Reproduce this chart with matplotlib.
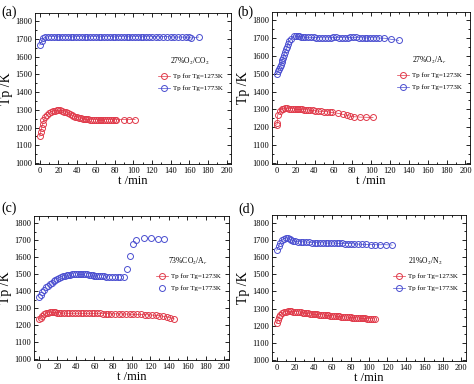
import numpy as np
import matplotlib.pyplot as plt
from matplotlib.ticker import MultipleLocator

plt.rcParams['font.family'] = ['Liberation Serif', 'DejaVu Serif']
plt.rcParams['mathtext.fontset'] = 'stix'

# ---- (a) 27%O2/CO2 ----
a_red_t = [0, 1, 2, 3, 4, 6, 8, 10, 12, 14, 16, 18, 20, 22, 24, 26, 28, 30, 32, 34,
           36, 38, 40, 42, 44, 46, 48, 50, 52, 54, 56, 58, 60, 62, 64, 66, 68, 70,
           72, 74, 76, 78, 80, 82, 90, 96, 102]
a_red_y = [1150, 1175, 1200, 1220, 1240, 1258, 1272, 1282, 1288, 1292, 1295, 1297,
           1298, 1297, 1294, 1290, 1285, 1280, 1275, 1270, 1266, 1262, 1258, 1255,
           1252, 1250, 1248, 1247, 1246, 1245, 1245, 1245, 1245, 1245, 1245, 1245,
           1245, 1245, 1245, 1245, 1245, 1245, 1245, 1245, 1245, 1245, 1245]
a_blue_t = [0, 2, 4, 6, 9, 12, 15, 18, 21, 24, 27, 30, 33, 36, 39, 42, 45, 48, 51,
            54, 57, 60, 63, 66, 69, 72, 75, 78, 81, 84, 87, 90, 93, 96, 99, 102,
            105, 108, 111, 114, 117, 120, 124, 128, 132, 136, 140, 144, 148, 152,
            156, 160, 162, 170]
a_blue_y = [1665, 1685, 1703, 1710, 1711, 1712, 1712, 1711, 1712, 1712, 1711, 1712,
            1712, 1711, 1712, 1712, 1711, 1712, 1712, 1711, 1712, 1712, 1711, 1712,
            1712, 1711, 1712, 1712, 1711, 1712, 1712, 1711, 1712, 1712, 1711, 1712,
            1712, 1711, 1712, 1712, 1711, 1712, 1712, 1711, 1712, 1712, 1711, 1710,
            1710, 1710, 1709, 1710, 1704, 1710]

# ---- (b) 27%O2/Ar ----
b_red_t = [0, 0.5, 1, 3, 5, 7, 9, 11, 13, 15, 17, 19, 21, 23, 25, 27, 29, 31, 33,
           35, 38, 41, 44, 47, 50, 53, 56, 59, 65, 70, 74, 78, 82, 88, 95, 102]
b_red_y = [1215, 1222, 1270, 1290, 1300, 1305, 1307, 1306, 1305, 1305, 1304, 1303,
           1302, 1301, 1300, 1300, 1299, 1298, 1297, 1296, 1294, 1292, 1290, 1289,
           1288, 1287, 1285, 1283, 1278, 1272, 1267, 1262, 1259, 1257, 1256, 1255]
b_blue_t = [0, 1, 2, 3, 4, 5, 6, 7, 8, 9, 10, 11, 12, 13, 15, 18, 20, 22, 24, 26,
            28, 30, 33, 36, 39, 42, 45, 48, 51, 54, 57, 60, 63, 66, 69, 72, 75, 78,
            81, 84, 87, 90, 93, 96, 99, 102, 105, 108, 114, 121, 129]
b_blue_y = [1500, 1512, 1525, 1538, 1550, 1563, 1577, 1590, 1605, 1620, 1635, 1650,
            1665, 1680, 1692, 1710, 1711, 1710, 1708, 1706, 1705, 1704, 1703, 1702,
            1702, 1701, 1701, 1700, 1700, 1700, 1701, 1702, 1702, 1701, 1701, 1700,
            1701, 1702, 1702, 1702, 1701, 1700, 1700, 1700, 1701, 1700, 1700, 1699,
            1698, 1692, 1686]

# ---- (c) 73%CO2/Ar ----
c_red_t = [0, 2, 4, 6, 8, 10, 12, 14, 16, 18, 20, 22, 24, 27, 30, 33, 36, 39, 42,
           45, 48, 51, 54, 57, 60, 63, 66, 69, 72, 75, 78, 82, 86, 90, 94, 98, 102,
           106, 110, 114, 118, 122, 126, 130, 134, 138, 142, 146]
c_red_y = [1235, 1245, 1257, 1265, 1270, 1274, 1276, 1276, 1276, 1276, 1275, 1275,
           1274, 1272, 1272, 1271, 1271, 1271, 1271, 1271, 1271, 1270, 1270, 1270,
           1270, 1270, 1270, 1269, 1269, 1269, 1268, 1268, 1268, 1267, 1267, 1266,
           1265, 1265, 1264, 1263, 1262, 1261, 1259, 1257, 1254, 1250, 1245, 1238]
c_blue_t = [0, 2, 4, 6, 8, 10, 12, 14, 16, 18, 20, 22, 24, 26, 28, 30, 32, 34, 36,
            38, 40, 42, 44, 46, 48, 50, 52, 54, 56, 58, 60, 62, 64, 66, 68, 70, 73,
            76, 79, 82, 85, 88, 92, 95, 98, 102, 105, 113, 121, 128, 135]
c_blue_y = [1365, 1380, 1395, 1410, 1423, 1433, 1443, 1451, 1459, 1466, 1473, 1479,
            1484, 1488, 1492, 1495, 1497, 1499, 1501, 1502, 1502, 1502, 1501, 1500,
            1501, 1502, 1501, 1499, 1496, 1494, 1492, 1491, 1490, 1490, 1489, 1488,
            1487, 1486, 1486, 1485, 1485, 1485, 1485, 1530, 1610, 1680, 1705, 1712,
            1714, 1711, 1710]

# ---- (d) 21%O2/N2 ----
d_red_t = [0, 1, 2, 4, 6, 8, 10, 12, 14, 16, 18, 20, 22, 24, 26, 28, 30, 32, 34,
           36, 38, 40, 42, 44, 46, 48, 50, 52, 54, 56, 58, 60, 62, 64, 66, 68, 70,
           72, 74, 76, 78, 80, 82, 84, 86, 88, 90, 92, 94, 96, 98, 100, 102, 104, 106]
d_red_y = [1215, 1232, 1250, 1265, 1275, 1280, 1283, 1284, 1284, 1284, 1283, 1283,
           1282, 1281, 1279, 1277, 1275, 1273, 1272, 1270, 1269, 1268, 1267, 1266,
           1265, 1264, 1263, 1262, 1261, 1260, 1259, 1258, 1257, 1256, 1255, 1254,
           1253, 1252, 1251, 1250, 1250, 1249, 1248, 1247, 1246, 1245, 1245, 1244,
           1243, 1243, 1242, 1241, 1241, 1240, 1240]
d_blue_t = [0, 2, 4, 6, 8, 10, 12, 14, 16, 18, 20, 23, 26, 29, 32, 35, 38, 41, 44,
            47, 50, 53, 56, 59, 62, 65, 68, 71, 74, 77, 80, 84, 88, 92, 97, 102, 107,
            112, 118, 125]
d_blue_y = [1640, 1662, 1685, 1700, 1708, 1712, 1711, 1705, 1700, 1695, 1691, 1690,
            1690, 1689, 1688, 1686, 1685, 1685, 1684, 1683, 1683, 1682, 1682, 1682,
            1682, 1681, 1680, 1680, 1679, 1679, 1678, 1677, 1676, 1675, 1674, 1673,
            1672, 1672, 1672, 1670]

labels = ['(a)', '(b)', '(c)', '(d)']
gases = ['27%O$_2$/CO$_2$', '27%O$_2$/A$_r$', '73%CO$_2$/A$_r$', '21%O$_2$/N$_2$']
series = [(a_red_t, a_red_y, a_blue_t, a_blue_y),
          (b_red_t, b_red_y, b_blue_t, b_blue_y),
          (c_red_t, c_red_y, c_blue_t, c_blue_y),
          (d_red_t, d_red_y, d_blue_t, d_blue_y)]
positions = [[0.074, 0.573, 0.414, 0.393],
             [0.574, 0.573, 0.418, 0.396],
             [0.072, 0.062, 0.411, 0.376],
             [0.574, 0.060, 0.409, 0.380]]
label_pos = [(0.002, 0.985), (0.500, 0.985), (0.002, 0.475), (0.502, 0.472)]

red = '#e03a4a'
blue = '#4b4fd0'

fig = plt.figure(figsize=(4.74, 3.84), dpi=100)
for i in range(4):
    ax = fig.add_axes(positions[i])
    rt, ry, bt, by = series[i]
    ax.plot(rt, ry, '-o', color=red, mfc='none', ms=4.3, mew=0.7, lw=0.5,
            label='Tp for Tg=1273K')
    bstyle = 'o' if i == 2 else '-o'
    ax.plot(bt, by, bstyle, color=blue, mfc='none', ms=4.3, mew=0.7, lw=0.5,
            label='Tp for Tg=1773K')
    ax.set_xlim(-5, 205)
    ax.set_ylim(995, 1845)
    ax.xaxis.set_major_locator(MultipleLocator(20))
    ax.xaxis.set_minor_locator(MultipleLocator(10))
    ax.yaxis.set_major_locator(MultipleLocator(100))
    ax.yaxis.set_minor_locator(MultipleLocator(50))
    ax.tick_params(which='both', direction='in', top=True, right=True,
                   labelsize=6, width=0.6, pad=2)
    ax.tick_params(which='major', length=3)
    ax.tick_params(which='minor', length=1.5)
    for s in ax.spines.values():
        s.set_linewidth(0.6)
    ax.set_xlabel('t /min', fontsize=9, labelpad=0)
    ax.set_ylabel('Tp /K', fontsize=10, labelpad=2)
    leg = ax.legend(title=gases[i], loc='center right', bbox_to_anchor=(0.99, 0.6),
                    frameon=False, fontsize=5, title_fontsize=5.5,
                    handlelength=1.8, handletextpad=0.4, labelspacing=0.9)
    fig.text(label_pos[i][0], label_pos[i][1], labels[i], fontsize=10,
             ha='left', va='top')

fig.savefig('out.png', dpi=100)
